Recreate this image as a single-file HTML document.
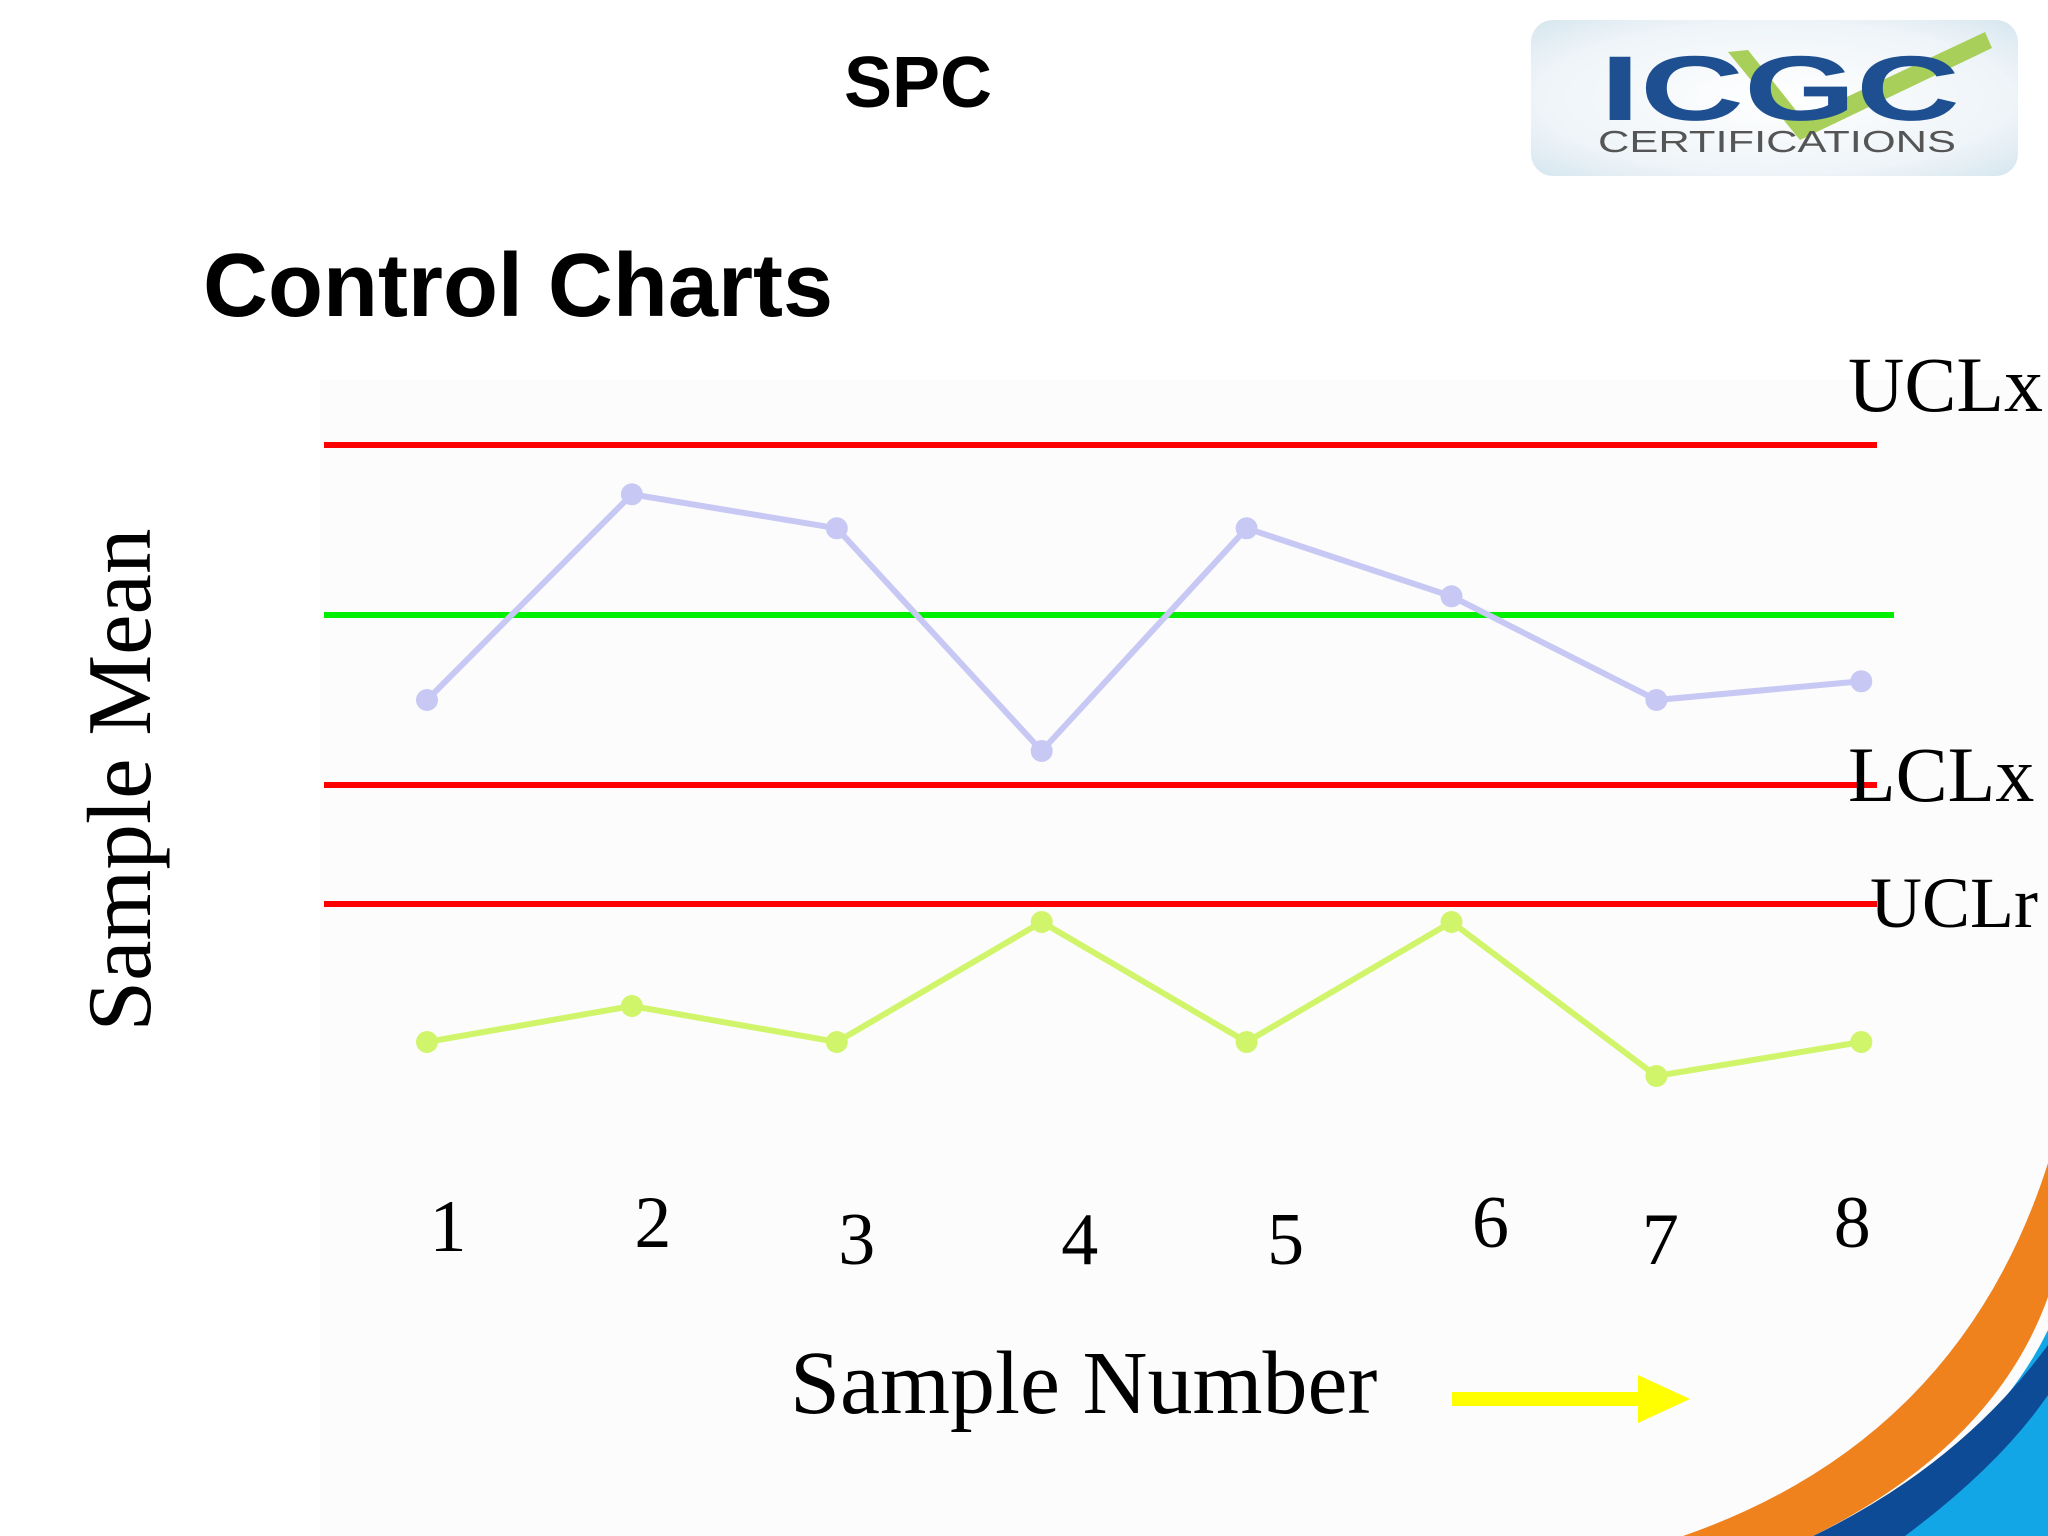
<!DOCTYPE html>
<html><head><meta charset="utf-8"><style>
html,body{margin:0;padding:0;background:#fff;}
svg{display:block}
</style></head><body>
<svg id="chart" width="2048" height="1536" viewBox="0 0 2048 1536" xmlns="http://www.w3.org/2000/svg">
<defs>
<radialGradient id="lg" cx="0.5" cy="0.5" r="0.7">
<stop offset="0" stop-color="#ffffff"/><stop offset="0.7" stop-color="#eef4f8"/><stop offset="1" stop-color="#d6e6ef"/>
</radialGradient>
</defs>
<rect x="0" y="0" width="2048" height="1536" fill="#ffffff"/>
<rect x="320" y="380" width="1728" height="1156" fill="#fcfcfc"/>
<text x="918" y="107" text-anchor="middle" font-family="Liberation Sans, sans-serif" font-weight="bold" font-size="72">SPC</text>
<text x="203" y="316" font-family="Liberation Sans, sans-serif" font-weight="bold" font-size="90">Control Charts</text>
<g>
<rect x="1531" y="20" width="487" height="156" rx="22" fill="url(#lg)"/>
<polygon points="1728,52 1748,50 1802,118 1985,32 1992,48 1800,140" fill="#a8cf5a"/>
<text x="1600" y="120" font-family="Liberation Sans, sans-serif" font-weight="bold" font-size="92" fill="#1d4f91" textLength="360" lengthAdjust="spacingAndGlyphs">ICGC</text>
<text x="1598" y="152" font-family="Liberation Sans, sans-serif" font-size="31" fill="#555" textLength="358" lengthAdjust="spacingAndGlyphs">CERTIFICATIONS</text>
</g>
<g>
<path d="M2048,1330 Q1990,1450 1830,1536 L2048,1536 Z" fill="#12a6e6"/>
<path d="M2048,1345 Q1960,1465 1813,1536 L1905,1536 Q2000,1465 2048,1395 Z" fill="#0d4b96"/>
<path d="M2048,1163 Q1960,1440 1683,1536 L1813,1536 Q1995,1445 2048,1297 Z" fill="#f0821e"/>
</g>
<g id="marks"></g>
<text x="1848" y="411" font-family="Liberation Serif, serif" font-size="78">UCLx</text>
<text x="1848" y="801" font-family="Liberation Serif, serif" font-size="78">LCLx</text>
<text x="1870" y="927" font-family="Liberation Serif, serif" font-size="72">UCLr</text>
<text transform="translate(150,780) rotate(-90)" text-anchor="middle" font-family="Liberation Serif, serif" font-size="91">Sample Mean</text>
<text x="790" y="1413" font-family="Liberation Serif, serif" font-size="90">Sample Number</text>
<g>
<rect x="1452" y="1392" width="190" height="14" fill="#ffff00"/>
<polygon points="1638,1375 1690,1399 1638,1423" fill="#ffff00"/>
</g>
</svg>
<script>
const samples=["1","2","3","4","5","6","7","8"];
const meanValues=[50,171,151,20,151,111,50,61];
const rangeValues=[31,49,31,91,31,91,14,31];
const meanLimits=[200,100,0]; // UCLx, CL, LCLx
const rangeLimit=[100];
const tickBaselineShift=[0,-4,13,13,13,-4,13,-4];
const tickXShift=[21,21,20,38,39,39,4,-9];

const NS="http://www.w3.org/2000/svg";
const g=document.getElementById('marks');
function xPos(i){return 427+i*204.9;}
function yMean(v){return 785-v*1.7;}
function yRange(v){return 904+(100-v)*2;}
function mk(tag,attrs){const e=document.createElementNS(NS,tag);for(const k in attrs)e.setAttribute(k,attrs[k]);g.appendChild(e);return e;}

const limNames=['ucl-x-line','center-line','lcl-x-line'];
meanLimits.forEach((v,i)=>{
  const l=mk('line',{x1:324,x2:i===1?1894:1877,y1:yMean(v),y2:yMean(v),stroke:i===1?'#00ee00':'#ff0000','stroke-width':6});
  
  
});
rangeLimit.forEach(v=>{
  const l=mk('line',{x1:324,x2:1877,y1:yRange(v),y2:yRange(v),stroke:'#ff0000','stroke-width':6});
  
  
});

const mp=mk('polyline',{points:meanValues.map((v,i)=>xPos(i)+','+yMean(v)).join(' '),fill:'none',stroke:'#c8c8f4','stroke-width':6});


meanValues.forEach((v,i)=>{
  const c=mk('circle',{cx:xPos(i),cy:yMean(v),r:11,fill:'#c8c8f4'});
  
  
});
const rp=mk('polyline',{points:rangeValues.map((v,i)=>xPos(i)+','+yRange(v)).join(' '),fill:'none',stroke:'#d0f56a','stroke-width':6});


rangeValues.forEach((v,i)=>{
  const c=mk('circle',{cx:xPos(i),cy:yRange(v),r:11,fill:'#d0f56a'});
  
  
});
samples.forEach((s,i)=>{
  const t=mk('text',{x:xPos(i)+tickXShift[i],y:1251+tickBaselineShift[i],'text-anchor':'middle','font-family':'Liberation Serif, serif','font-size':74});
  t.textContent=s;
  
  
});
</script>
</body></html>
